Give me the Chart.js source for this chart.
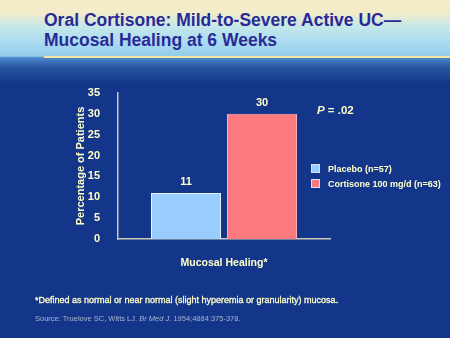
<!DOCTYPE html>
<html>
<head>
<meta charset="utf-8">
<script src="https://cdn.jsdelivr.net/npm/chart.js@4.4.1/dist/chart.umd.min.js"></script>
<style>
html, body { margin: 0; padding: 0; }
body {
    width: 450px; height: 338px; overflow: hidden; position: relative;
    background: #14368a;
    font-family: "Liberation Sans", Arial, sans-serif;
}
#head {
    position: absolute; left: 0; top: 0; width: 450px; height: 84px;
    background: linear-gradient(to bottom, #f6ecc8 0px, #f3ecca 13px, #c4e7ea 27px, #a9dcf0 42px, #93cdea 56px,
        #4a84cb 58px, #24549f 68px, #14368a 84px);
}
#rule { position: absolute; left: 44px; top: 56px; width: 406px; height: 2px; background: #f5e5a8; }
#title {
    position: absolute; left: 44px; top: 10px;
    font-weight: bold; font-size: 17.5px; line-height: 20px; color: #2a2a96;
}
#chart { position: absolute; left: 0; top: 0; }
#pval {
    position: absolute; left: 317px; top: 104px;
    font-weight: bold; font-size: 11.5px; color: #ffffcc;
}
#legend { position: absolute; left: 311px; top: 161px; }
.item { height: 15px; display: flex; align-items: center; font-weight: bold; font-size: 9px; color: #ffffcc; white-space: nowrap; }
.box { width: 7px; height: 7px; margin-right: 8px; border: 1px solid #dde; }
#foot {
    position: absolute; left: 35px; top: 295px;
    font-size: 9px; color: #ffffcc; white-space: nowrap;
    -webkit-text-stroke: 0.3px #ffffcc;
}
#src {
    position: absolute; left: 35px; top: 314px;
    font-size: 7.5px; color: #a9b4cc; white-space: nowrap;
}
</style>
</head>
<body>
<div id="head"></div>
<div id="rule"></div>
<div id="title">Oral Cortisone: Mild-to-Severe Active UC—<br>Mucosal Healing at 6 Weeks</div>
<canvas id="chart" width="450" height="338"></canvas>
<div id="pval"><i>P</i> = .02</div>
<div id="legend"></div>
<div id="foot">*Defined as normal or near normal (slight hyperemia or granularity) mucosa.</div>
<div id="src">Source: Truelove SC, Witts LJ. <i>Br Med J</i>. 1954;4884:375-378.</div>
<script>
const categories = ['Mucosal Healing*'];
const seriesNames = ['Placebo (n=57)', 'Cortisone 100 mg/d (n=63)'];
const placebo = [11];
const cortisone = [30];
const yMax = 35;
const yStep = 5;

const fillColors = ['#99ccff', '#ff7b80'];
const edgeColors = ['#e8f2ff', '#ffb0b0'];
const axisColor = '#c8c8b4';
const textColor = '#ffffcc';
const font = '"Liberation Sans", Arial, sans-serif';

// numbers over the bars
const valueLabels = {
    id: 'valueLabels',
    afterDatasetsDraw(chart) {
        const ctx = chart.ctx;
        ctx.save();
        ctx.font = 'bold 11px ' + font;
        ctx.fillStyle = textColor;
        ctx.textAlign = 'center';
        ctx.textBaseline = 'middle';
        chart.data.datasets.forEach((ds, i) => {
            chart.getDatasetMeta(i).data.forEach((bar, j) => {
                ctx.fillText(ds.data[j], bar.x, bar.y - 11);
            });
        });
        ctx.restore();
    }
};

const ctx = document.getElementById('chart').getContext('2d');
const chart = new Chart(ctx, {
    type: 'bar',
    data: {
        labels: categories,
        datasets: [placebo, cortisone].map((d, i) => ({
            label: seriesNames[i],
            data: d,
            backgroundColor: fillColors[i],
            borderColor: edgeColors[i],
            borderWidth: 1,
            categoryPercentage: 0.717,
            barPercentage: 0.921
        }))
    },
    options: {
        responsive: false,
        animation: false,
        devicePixelRatio: 1,
        layout: { padding: { left: 70, top: 93, right: 120, bottom: 69 } },
        plugins: { legend: { display: false }, tooltip: { enabled: false } },
        scales: {
            x: {
                grid: { display: false },
                border: { color: axisColor, width: 1.5 },
                ticks: { color: textColor, font: { family: font, size: 10.5, weight: 'bold' }, padding: 10 },
                afterFit: s => { s.height = 30; }
            },
            y: {
                min: 0, max: yMax,
                grid: { display: false },
                border: { color: axisColor, width: 1.5 },
                ticks: { stepSize: yStep, color: textColor, font: { family: font, size: 11, weight: 'bold' }, padding: 10 },
                title: { display: true, text: 'Percentage of Patients', color: textColor,
                         font: { family: font, size: 11, weight: 'bold' }, padding: 4 },
                afterFit: s => { s.width = 48; }
            }
        }
    },
    plugins: [valueLabels]
});

// legend built from the datasets
const legend = document.getElementById('legend');
chart.data.datasets.forEach(ds => {
    const item = document.createElement('div');
    item.className = 'item';
    const box = document.createElement('span');
    box.className = 'box';
    box.style.background = ds.backgroundColor;
    item.appendChild(box);
    item.appendChild(document.createTextNode(ds.label));
    legend.appendChild(item);
});
</script>
</body>
</html>
